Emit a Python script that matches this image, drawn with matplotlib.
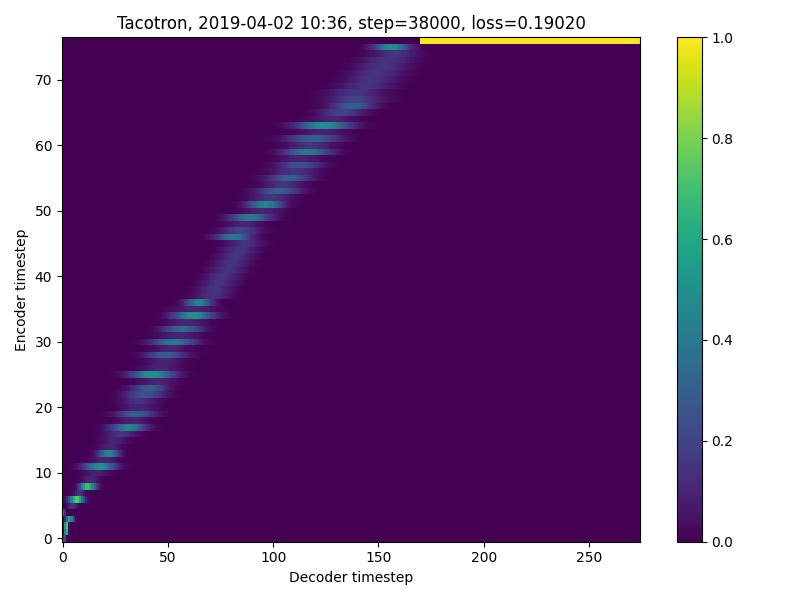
import numpy as np
import matplotlib
matplotlib.use("Agg")
import matplotlib.pyplot as plt

title = "Tacotron, 2019-04-02 10:36, step=38000, loss=0.19020"
n_decoder = 275
n_encoder = 77

# per-encoder-row attention band: decoder start, decoder end, peak weight
dec_start = [0,1,1,2,0,3,4,6,9,10,12,12,15,18,18,20,22,25,28,28,30,30,32,35,38,35,40,42,42,45,
             45,48,50,52,55,55,60,65,66,68,70,72,74,76,78,80,75,78,80,82,88,90,92,95,98,100,
             102,105,105,108,110,110,115,115,120,125,130,130,130,135,138,140,143,146,150,150,170]
dec_end = [2,3,3,6,1,8,12,12,18,20,25,30,30,30,32,35,40,45,45,50,50,50,55,55,60,60,62,62,65,65,
           70,72,72,75,78,80,75,85,86,88,90,92,94,96,98,100,95,100,100,105,110,110,115,120,120,125,
           128,130,130,135,135,140,140,145,145,150,155,160,160,165,167,170,172,174,175,170,275]
peak = [0.3,0.8,0.9,0.6,0.5,0.15,0.75,0.15,0.7,0.1,0.1,0.5,0.1,0.45,0.1,0.1,0.15,0.45,0.1,0.3,
        0.1,0.15,0.25,0.3,0.1,0.5,0.1,0.1,0.3,0.1,0.4,0.1,0.35,0.1,0.5,0.1,0.45,0.15,0.15,0.15,
        0.15,0.15,0.15,0.15,0.15,0.15,0.4,0.2,0.1,0.4,0.1,0.45,0.15,0.3,0.15,0.3,0.15,0.25,0.1,0.4,
        0.15,0.3,0.1,0.5,0.1,0.2,0.3,0.2,0.15,0.15,0.15,0.15,0.15,0.15,0.15,0.5,1.0]

align = np.zeros((n_encoder, n_decoder))
x = np.arange(n_decoder)
for r in range(n_encoder):
    s, e, p = dec_start[r], dec_end[r], peak[r]
    if r == n_encoder - 1:
        align[r, s:e] = p
        continue
    c = s + 0.3 * (e - s)
    w = max(0.4 * (e - s), 0.6)
    align[r] = p * np.exp(-((x - c) / w) ** 2)

fig, ax = plt.subplots(figsize=(8, 6), dpi=100)
im = ax.imshow(align, aspect="auto", origin="lower", interpolation="none", cmap="viridis")
fig.colorbar(im, ax=ax)
ax.set_title(title)
ax.set_xlabel("Decoder timestep")
ax.set_ylabel("Encoder timestep")
plt.tight_layout()
fig.savefig("out.png")
